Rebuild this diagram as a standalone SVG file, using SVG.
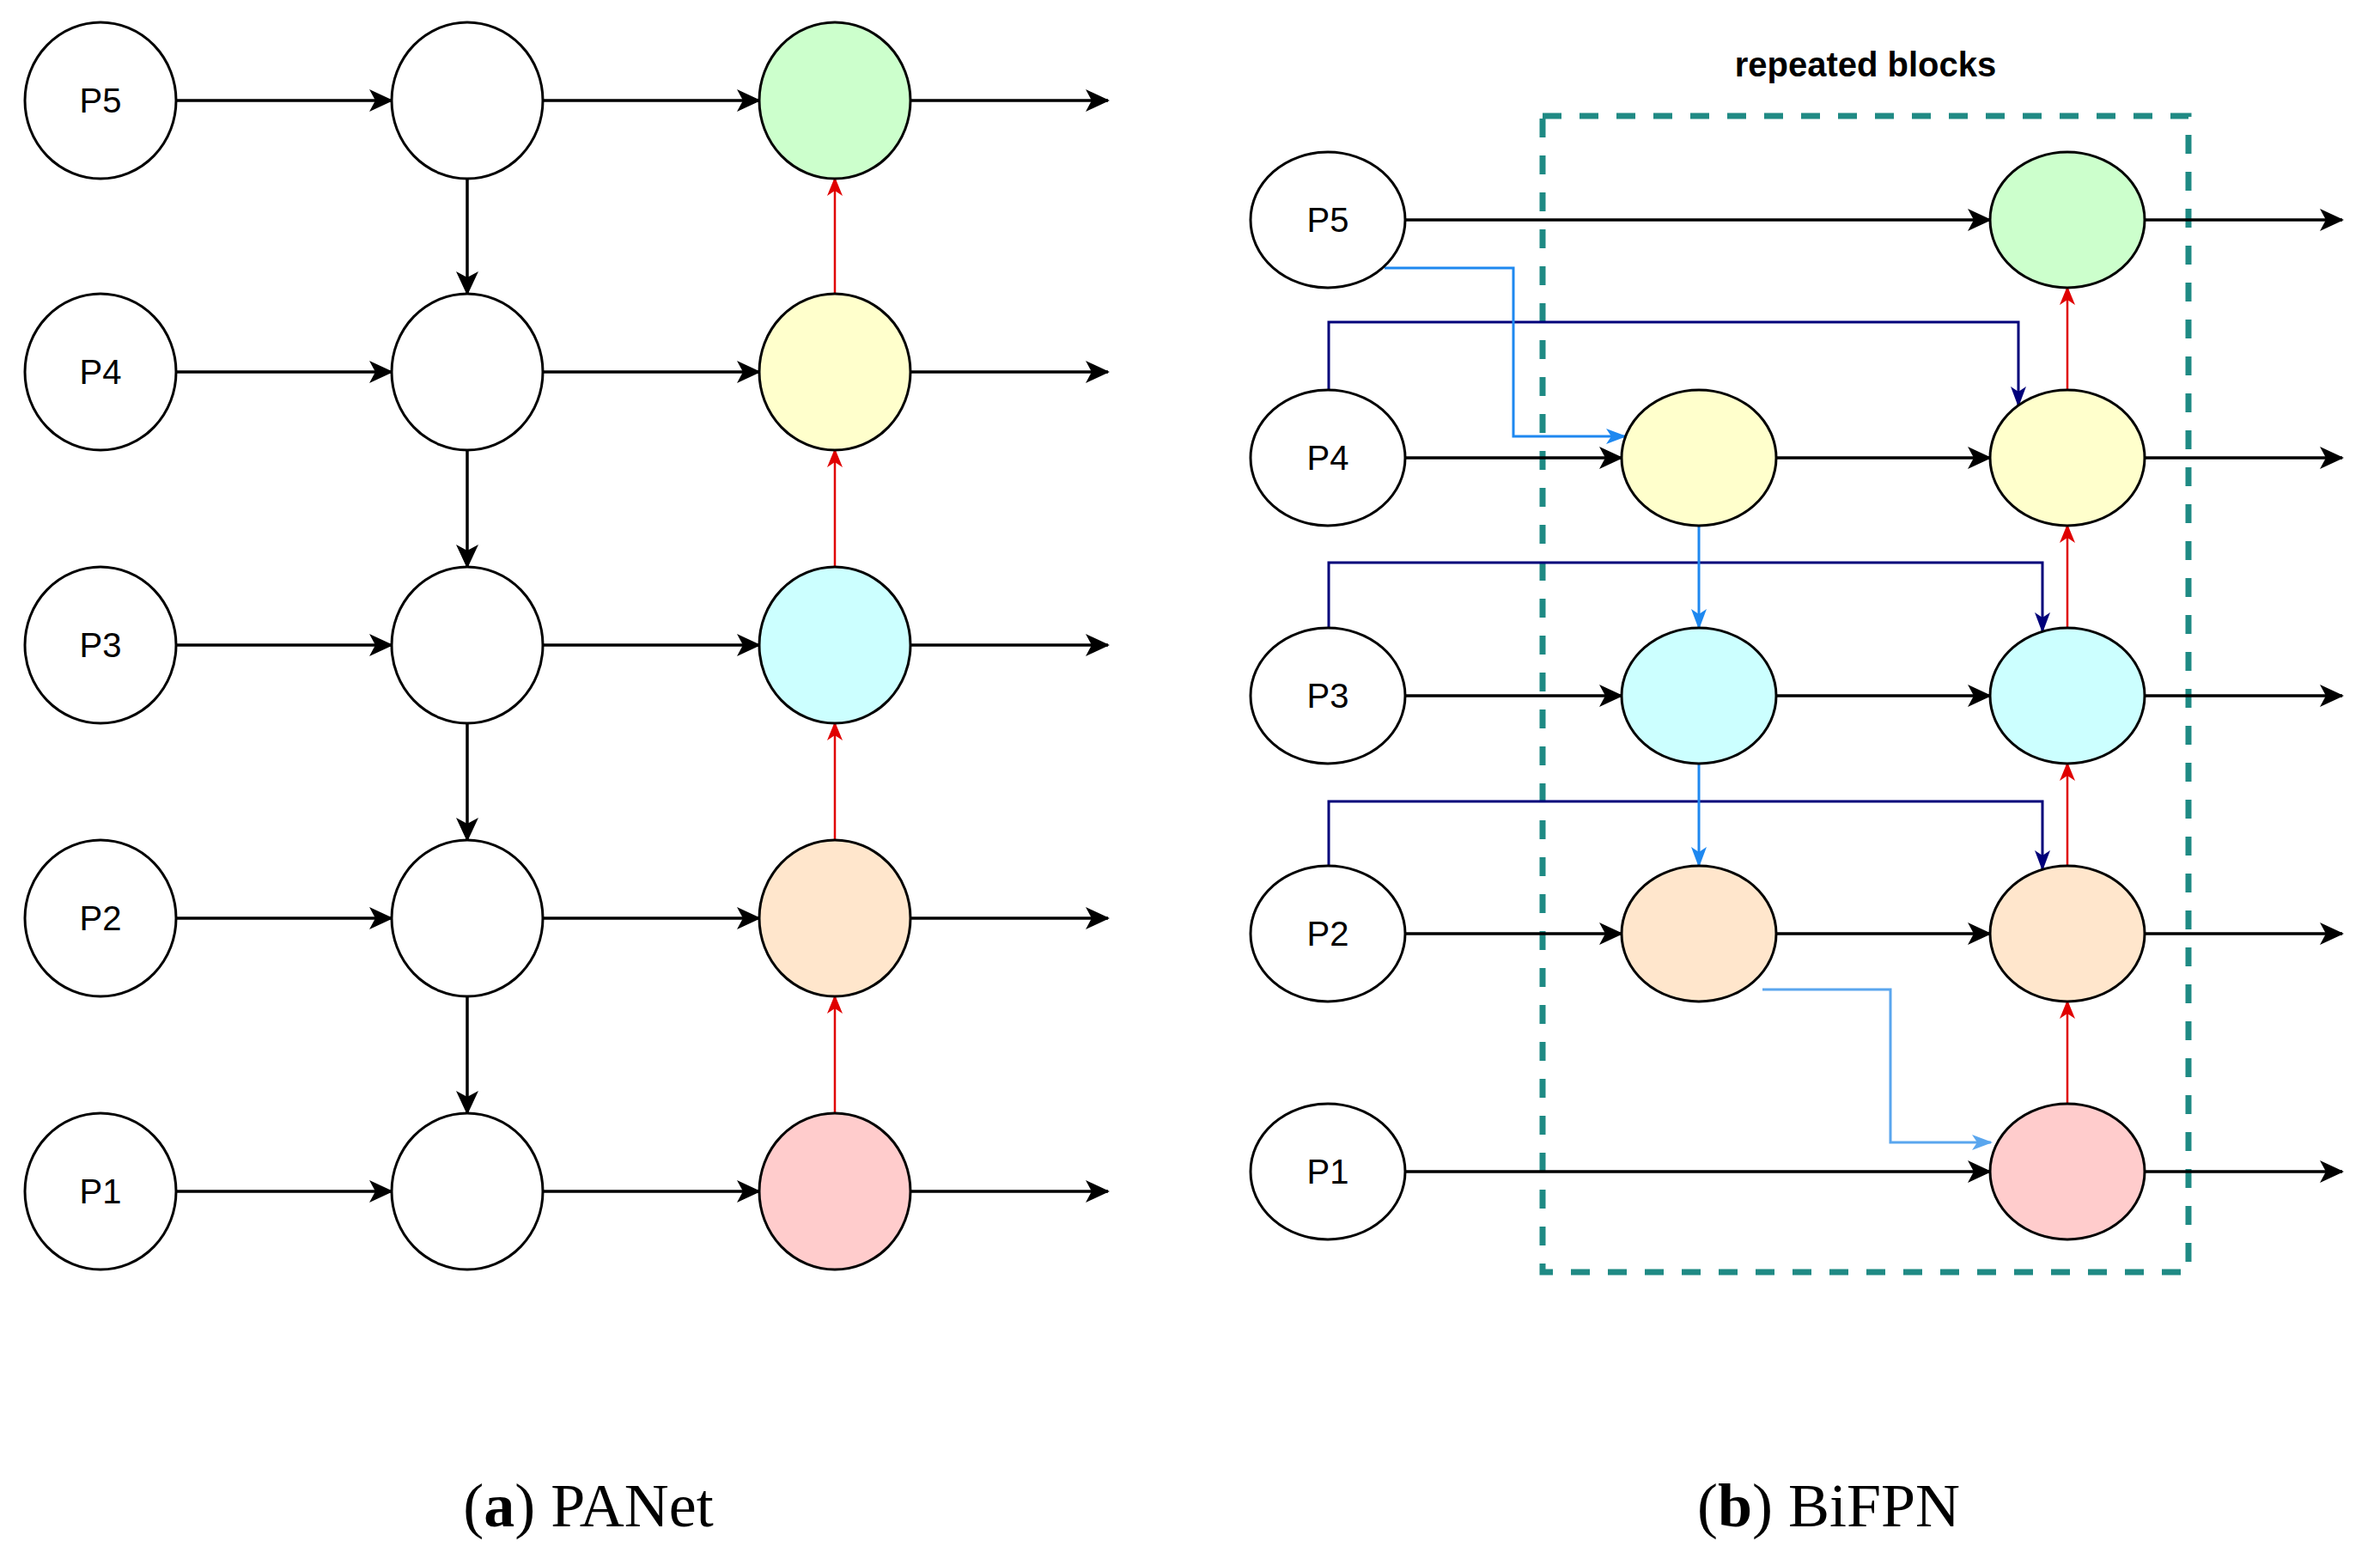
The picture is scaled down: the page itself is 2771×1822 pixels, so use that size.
<svg xmlns="http://www.w3.org/2000/svg" width="2771" height="1822" viewBox="0 0 2771 1822">
<style>
.n{stroke:#000;stroke-width:3}
.t{font-family:"Liberation Sans",Arial,sans-serif;font-size:40px;text-anchor:middle;dominant-baseline:central}
.k{fill:none;stroke:#000;stroke-width:3.5}
.r{fill:none;stroke:#e00000;stroke-width:2.5}
.nv{fill:none;stroke:#00007a;stroke-width:3}
.lb{fill:none;stroke:#1e88f0;stroke-width:3}
.lb2{fill:none;stroke:#5aa6ee;stroke-width:3}
.cap{font-family:"Liberation Serif","Times New Roman",serif;font-size:72px;text-anchor:middle}
</style>
<defs>
<marker id="ak" markerWidth="28" markerHeight="28" refX="26" refY="14" orient="auto" markerUnits="userSpaceOnUse"><path d="M0,1 L28,14 L0,27 L7,14 z" fill="#000"/></marker>
<marker id="ar" markerWidth="22" markerHeight="20" refX="20" refY="10" orient="auto" markerUnits="userSpaceOnUse"><path d="M0,1 L22,10 L0,19 L6,10 z" fill="#e00000"/></marker>
<marker id="an" markerWidth="24" markerHeight="20" refX="22" refY="10" orient="auto" markerUnits="userSpaceOnUse"><path d="M0,1 L24,10 L0,19 L6,10 z" fill="#00007a"/></marker>
<marker id="ab" markerWidth="24" markerHeight="20" refX="22" refY="10" orient="auto" markerUnits="userSpaceOnUse"><path d="M0,1 L24,10 L0,19 L6,10 z" fill="#1e88f0"/></marker>
<marker id="ab2" markerWidth="24" markerHeight="20" refX="22" refY="10" orient="auto" markerUnits="userSpaceOnUse"><path d="M0,1 L24,10 L0,19 L6,10 z" fill="#5aa6ee"/></marker>
</defs>
<rect width="2771" height="1822" fill="#fff"/>
<g id="box"><rect x="1796" y="135" width="752" height="1346" fill="none" stroke="#1f8a84" stroke-width="7" stroke-dasharray="22,21"/>
<text x="2172" y="75" class="t" style="font-weight:bold;font-size:40px">repeated blocks</text></g>
<g id="connectors">
<g marker-end="url(#ak)">
<path class="k" d="M205,117H456"/><path class="k" d="M632,117H884"/><path class="k" d="M1060,117H1290"/>
<path class="k" d="M205,433H456"/><path class="k" d="M632,433H884"/><path class="k" d="M1060,433H1290"/>
<path class="k" d="M205,751H456"/><path class="k" d="M632,751H884"/><path class="k" d="M1060,751H1290"/>
<path class="k" d="M205,1069H456"/><path class="k" d="M632,1069H884"/><path class="k" d="M1060,1069H1290"/>
<path class="k" d="M205,1387H456"/><path class="k" d="M632,1387H884"/><path class="k" d="M1060,1387H1290"/>
<path class="k" d="M544,208V342"/><path class="k" d="M544,524V660"/><path class="k" d="M544,842V978"/><path class="k" d="M544,1160V1296"/>
</g>
<g marker-end="url(#ar)">
<path class="r" d="M972,1296V1160"/><path class="r" d="M972,978V842"/><path class="r" d="M972,660V524"/><path class="r" d="M972,342V208"/>
</g>
<g marker-end="url(#ak)">
<path class="k" d="M1636,256H2317"/><path class="k" d="M2497,256H2727"/>
<path class="k" d="M1636,533H1888"/><path class="k" d="M2068,533H2317"/><path class="k" d="M2497,533H2727"/>
<path class="k" d="M1636,810H1888"/><path class="k" d="M2068,810H2317"/><path class="k" d="M2497,810H2727"/>
<path class="k" d="M1636,1087H1888"/><path class="k" d="M2068,1087H2317"/><path class="k" d="M2497,1087H2727"/>
<path class="k" d="M1636,1364H2317"/><path class="k" d="M2497,1364H2727"/>
</g>
<g marker-end="url(#ar)">
<path class="r" d="M2407,1285V1166"/><path class="r" d="M2407,1008V889"/><path class="r" d="M2407,731V612"/><path class="r" d="M2407,454V335"/>
</g>
<g marker-end="url(#an)">
<path class="nv" d="M1547,454V375H2350V472"/>
<path class="nv" d="M1547,731V655H2378V735"/>
<path class="nv" d="M1547,1008V933H2378V1012"/>
</g>
<path class="lb" marker-end="url(#ab)" d="M1612,312H1762V508H1892"/>
<path class="lb" marker-end="url(#ab)" d="M1978,612V731"/>
<path class="lb" marker-end="url(#ab)" d="M1978,889V1008"/>
<path class="lb2" marker-end="url(#ab2)" d="M2052,1152H2201V1330H2318"/>
</g>
<g id="left-nodes">
<ellipse cx="117" cy="117" rx="88" ry="91" class="n" fill="#fff"/><text x="117" y="117" class="t">P5</text>
<ellipse cx="117" cy="433" rx="88" ry="91" class="n" fill="#fff"/><text x="117" y="433" class="t">P4</text>
<ellipse cx="117" cy="751" rx="88" ry="91" class="n" fill="#fff"/><text x="117" y="751" class="t">P3</text>
<ellipse cx="117" cy="1069" rx="88" ry="91" class="n" fill="#fff"/><text x="117" y="1069" class="t">P2</text>
<ellipse cx="117" cy="1387" rx="88" ry="91" class="n" fill="#fff"/><text x="117" y="1387" class="t">P1</text>
<ellipse cx="544" cy="117" rx="88" ry="91" class="n" fill="#fff"/>
<ellipse cx="544" cy="433" rx="88" ry="91" class="n" fill="#fff"/>
<ellipse cx="544" cy="751" rx="88" ry="91" class="n" fill="#fff"/>
<ellipse cx="544" cy="1069" rx="88" ry="91" class="n" fill="#fff"/>
<ellipse cx="544" cy="1387" rx="88" ry="91" class="n" fill="#fff"/>
<ellipse cx="972" cy="117" rx="88" ry="91" class="n" fill="#ccffcc"/>
<ellipse cx="972" cy="433" rx="88" ry="91" class="n" fill="#ffffcc"/>
<ellipse cx="972" cy="751" rx="88" ry="91" class="n" fill="#ccffff"/>
<ellipse cx="972" cy="1069" rx="88" ry="91" class="n" fill="#ffe6cc"/>
<ellipse cx="972" cy="1387" rx="88" ry="91" class="n" fill="#ffcccc"/>
</g>
<g id="right-nodes">
<ellipse cx="1546" cy="256" rx="90" ry="79" class="n" fill="#fff"/><text x="1546" y="256" class="t">P5</text>
<ellipse cx="1546" cy="533" rx="90" ry="79" class="n" fill="#fff"/><text x="1546" y="533" class="t">P4</text>
<ellipse cx="1546" cy="810" rx="90" ry="79" class="n" fill="#fff"/><text x="1546" y="810" class="t">P3</text>
<ellipse cx="1546" cy="1087" rx="90" ry="79" class="n" fill="#fff"/><text x="1546" y="1087" class="t">P2</text>
<ellipse cx="1546" cy="1364" rx="90" ry="79" class="n" fill="#fff"/><text x="1546" y="1364" class="t">P1</text>
<ellipse cx="1978" cy="533" rx="90" ry="79" class="n" fill="#ffffcc"/>
<ellipse cx="1978" cy="810" rx="90" ry="79" class="n" fill="#ccffff"/>
<ellipse cx="1978" cy="1087" rx="90" ry="79" class="n" fill="#ffe6cc"/>
<ellipse cx="2407" cy="256" rx="90" ry="79" class="n" fill="#ccffcc"/>
<ellipse cx="2407" cy="533" rx="90" ry="79" class="n" fill="#ffffcc"/>
<ellipse cx="2407" cy="810" rx="90" ry="79" class="n" fill="#ccffff"/>
<ellipse cx="2407" cy="1087" rx="90" ry="79" class="n" fill="#ffe6cc"/>
<ellipse cx="2407" cy="1364" rx="90" ry="79" class="n" fill="#ffcccc"/>
</g>
<g id="captions">
<text x="685" y="1777" class="cap">(<tspan font-weight="bold">a</tspan>) PANet</text>
<text x="2129" y="1777" class="cap">(<tspan font-weight="bold">b</tspan>) BiFPN</text>
</g>
</svg>
